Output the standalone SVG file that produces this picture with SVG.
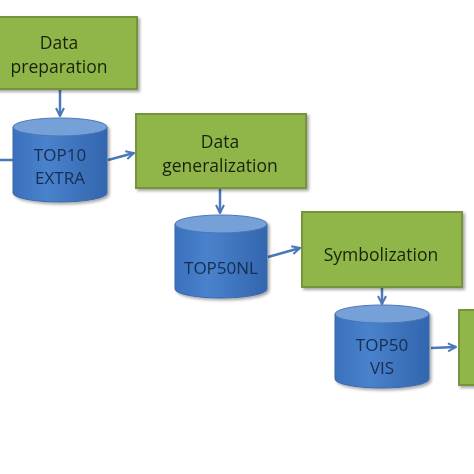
<svg xmlns="http://www.w3.org/2000/svg" width="474" height="474" viewBox="0 0 474 474">
<defs>
<linearGradient id="cylBody" x1="0" y1="0" x2="1" y2="0">
<stop offset="0" stop-color="#3a70bc"/>
<stop offset="0.35" stop-color="#4a82cc"/>
<stop offset="1" stop-color="#3266ae"/>
</linearGradient>
<marker id="arr" viewBox="0 0 10 10" refX="9" refY="5" markerWidth="4" markerHeight="4" orient="auto" markerUnits="strokeWidth">
<path d="M1,1 L9,5 L1,9" fill="none" stroke="#4a78b8" stroke-width="2"/>
</marker>
<filter id="sh" x="-10%" y="-10%" width="125%" height="125%">
<feGaussianBlur in="SourceAlpha" stdDeviation="1.5"/>
<feOffset dx="1.5" dy="1.5" result="b"/>
<feComponentTransfer><feFuncA type="linear" slope="0.35"/></feComponentTransfer>
<feMerge><feMergeNode/><feMergeNode in="SourceGraphic"/></feMerge>
</filter>
</defs>
<style>
.box{fill:#90b54a;stroke:#74943a;stroke-width:2}
.bt{font-family:"Open Sans","Noto Sans",sans-serif;font-size:17.5px;fill:#18240a;text-anchor:middle}
.cb{fill:url(#cylBody);stroke:#3a68a8;stroke-width:1}
.ct{fill:#75a0d8;stroke:#4a78b8;stroke-width:1}
.cyt{font-family:"Open Sans","Noto Sans",sans-serif;font-size:17px;fill:#172d52;text-anchor:middle}
.con{stroke:#4a78b8;stroke-width:2.5;fill:none}
</style>
<rect width="474" height="474" fill="#ffffff"/>
<g id="connectors">
<line class="con" x1="0" y1="160" x2="13" y2="160"/>
<line class="con" x1="60" y1="90" x2="60" y2="116" marker-end="url(#arr)"/>
<line class="con" x1="108" y1="160" x2="134" y2="153" marker-end="url(#arr)"/>
<line class="con" x1="220" y1="189" x2="220" y2="213" marker-end="url(#arr)"/>
<line class="con" x1="268" y1="257" x2="300" y2="248" marker-end="url(#arr)"/>
<line class="con" x1="382" y1="288" x2="382" y2="304" marker-end="url(#arr)"/>
<line class="con" x1="431" y1="348" x2="456" y2="347" marker-end="url(#arr)"/>
</g>
<g id="data-preparation" filter="url(#sh)">
<rect class="box" x="-3" y="17" width="140" height="72"/>
<text class="bt" x="59" y="49">Data</text>
<text class="bt" x="59" y="73">preparation</text>
</g>
<g id="top10-extra" filter="url(#sh)">
<path class="cb" d="M13,127 L13,193 A47,9 0 0 0 107,193 L107,127 Z"/>
<ellipse class="ct" cx="60" cy="127" rx="47" ry="9"/>
<text class="cyt" x="60" y="161">TOP10</text>
<text class="cyt" x="60" y="184">EXTRA</text>
</g>
<g id="data-generalization" filter="url(#sh)">
<rect class="box" x="136" y="114" width="170" height="74"/>
<text class="bt" x="220" y="148">Data</text>
<text class="bt" x="220" y="172">generalization</text>
</g>
<g id="top50nl" filter="url(#sh)">
<path class="cb" d="M175,224 L175,289 A46,9 0 0 0 267,289 L267,224 Z"/>
<ellipse class="ct" cx="221" cy="224" rx="46" ry="9"/>
<text class="cyt" x="221" y="274">TOP50NL</text>
</g>
<g id="symbolization" filter="url(#sh)">
<rect class="box" x="302" y="212" width="160" height="75"/>
<text class="bt" x="381" y="261">Symbolization</text>
</g>
<g id="top50-vis" filter="url(#sh)">
<path class="cb" d="M335,314 L335,379 A47,9 0 0 0 429,379 L429,314 Z"/>
<ellipse class="ct" cx="382" cy="314" rx="47" ry="9"/>
<text class="cyt" x="382" y="351">TOP50</text>
<text class="cyt" x="382" y="374">VIS</text>
</g>
<g id="next-step" filter="url(#sh)">
<rect class="box" x="459" y="310" width="20" height="75"/>
</g>
</svg>
